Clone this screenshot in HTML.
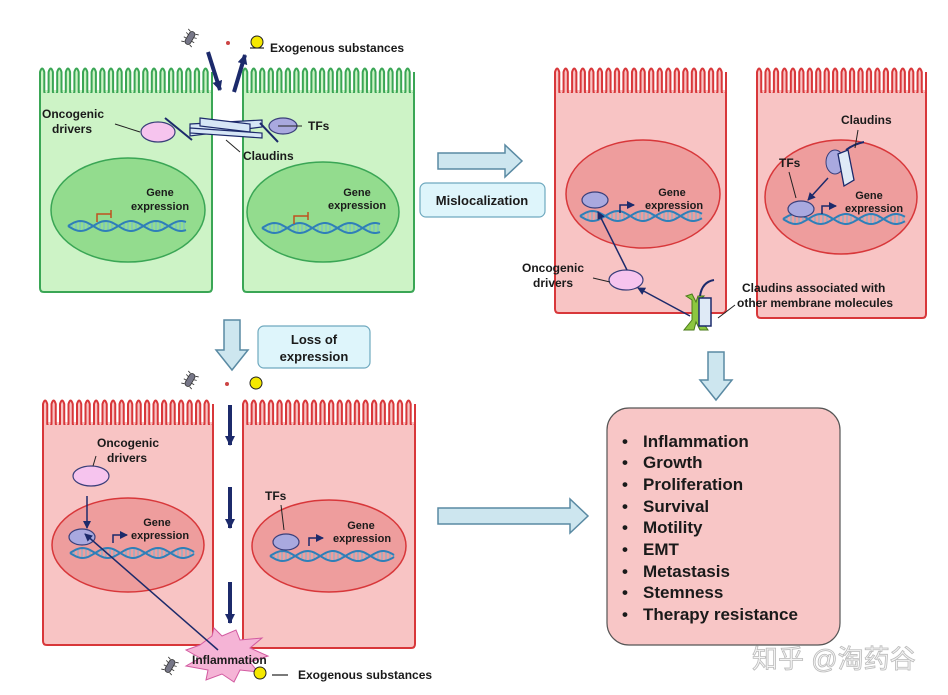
<!DOCTYPE html>
<html><head><meta charset="utf-8"><style>
html,body{margin:0;padding:0;background:#fff;width:948px;height:695px;overflow:hidden}
svg{display:block}
text{font-family:"Liberation Sans",Arial,sans-serif;font-weight:bold;fill:#1a1a1a}
</style></head><body>
<svg id="s" width="948" height="695" viewBox="0 0 948 695" xmlns="http://www.w3.org/2000/svg">
<defs>
<marker id="ah" markerWidth="8" markerHeight="8" refX="7" refY="4" orient="auto" markerUnits="userSpaceOnUse"><path d="M0,0 L8,4 L0,8 z" fill="#1c2a6b"/></marker>
<marker id="ahs" markerWidth="10" markerHeight="10" refX="9" refY="5" orient="auto" markerUnits="userSpaceOnUse"><path d="M0,0 L10,5 L0,10 z" fill="#1c2a6b"/></marker>
</defs>
<g id="shapes"></g>

<path d="M438,153 H505 V145 L522,161 L505,177 V169 H438 Z" fill="#cde6ef" stroke="#5a8aa3" stroke-width="1.5"/>
<path d="M438,508 H570 V499 L588,516 L570,533 V524 H438 Z" fill="#cde6ef" stroke="#5a8aa3" stroke-width="1.5"/>
<path d="M224,320 V350 H216 L232,370 L248,350 H240 V320 Z" fill="#cde6ef" stroke="#5a8aa3" stroke-width="1.5"/>
<path d="M708,352 V380 H700 L716,400 L732,380 H724 V352 Z" fill="#cde6ef" stroke="#5a8aa3" stroke-width="1.5"/>

<rect x="420" y="183" width="125" height="34" rx="6" fill="#def5fb" stroke="#6fa9bf" stroke-width="1.2"/>
<text x="482" y="205" font-size="13" text-anchor="middle">Mislocalization</text>
<rect x="258" y="326" width="112" height="42" rx="6" fill="#def5fb" stroke="#6fa9bf" stroke-width="1.2"/>
<text x="314" y="344" font-size="13" text-anchor="middle">Loss  of</text>
<text x="314" y="361" font-size="13" text-anchor="middle">expression</text>

<rect x="607" y="408" width="233" height="237" rx="22" fill="#f8c6c6" stroke="#555" stroke-width="1.2"/>
<g font-size="17">
<text x="622" y="447">•</text><text x="643" y="447">Inflammation</text>
<text x="622" y="468">•</text><text x="643" y="468">Growth</text>
<text x="622" y="490">•</text><text x="643" y="490">Proliferation</text>
<text x="622" y="512">•</text><text x="643" y="512">Survival</text>
<text x="622" y="533">•</text><text x="643" y="533">Motility</text>
<text x="622" y="555">•</text><text x="643" y="555">EMT</text>
<text x="622" y="577">•</text><text x="643" y="577">Metastasis</text>
<text x="622" y="598">•</text><text x="643" y="598">Stemness</text>
<text x="622" y="620">•</text><text x="643" y="620">Therapy resistance</text>
</g>

<text x="270" y="52" font-size="12">Exogenous substances</text>
<line x1="264" y1="48" x2="250" y2="48" stroke="#222" stroke-width="1.2"/>
<circle cx="257" cy="42" r="6" fill="#f5e800" stroke="#222" stroke-width="1"/>
<circle cx="228" cy="43" r="2" fill="#c44"/>
<line x1="208" y1="52" x2="220" y2="90" stroke="#1c2a6b" stroke-width="4" marker-end="url(#ahs)"/>
<line x1="234" y1="92" x2="245" y2="55" stroke="#1c2a6b" stroke-width="4" marker-end="url(#ahs)"/>
<text x="42" y="118" font-size="12">Oncogenic</text>
<text x="52" y="133" font-size="12">drivers</text>
<line x1="115" y1="124" x2="140" y2="132" stroke="#222"/>
<text x="308" y="130" font-size="12">TFs</text>
<line x1="302" y1="126" x2="278" y2="126" stroke="#222"/>
<text x="243" y="160" font-size="12">Claudins</text>
<line x1="240" y1="152" x2="226" y2="140" stroke="#222"/>
<text x="160" y="196" font-size="11" text-anchor="middle">Gene</text>
<text x="160" y="210" font-size="11" text-anchor="middle">expression</text>
<text x="357" y="196" font-size="11" text-anchor="middle">Gene</text>
<text x="357" y="209" font-size="11" text-anchor="middle">expression</text>

<text x="672" y="196" font-size="11" text-anchor="middle">Gene</text>
<text x="674" y="209" font-size="11" text-anchor="middle">expression</text>
<text x="869" y="199" font-size="11" text-anchor="middle">Gene</text>
<text x="874" y="212" font-size="11" text-anchor="middle">expression</text>
<text x="841" y="124" font-size="12">Claudins</text>
<line x1="858" y1="130" x2="855" y2="148" stroke="#222"/>
<text x="779" y="167" font-size="12">TFs</text>
<line x1="789" y1="172" x2="796" y2="198" stroke="#222"/>
<text x="522" y="272" font-size="12">Oncogenic</text>
<text x="533" y="287" font-size="12">drivers</text>
<line x1="593" y1="278" x2="610" y2="282" stroke="#222"/>
<text x="742" y="292" font-size="12">Claudins associated with</text>
<text x="737" y="307" font-size="12">other membrane molecules</text>
<line x1="735" y1="305" x2="718" y2="318" stroke="#222"/>

<text x="97" y="447" font-size="12">Oncogenic</text>
<text x="107" y="462" font-size="12">drivers</text>
<line x1="96" y1="456" x2="93" y2="466" stroke="#222"/>
<text x="157" y="526" font-size="11" text-anchor="middle">Gene</text>
<text x="160" y="539" font-size="11" text-anchor="middle">expression</text>
<text x="265" y="500" font-size="12">TFs</text>
<line x1="281" y1="505" x2="284" y2="530" stroke="#222"/>
<text x="361" y="529" font-size="11" text-anchor="middle">Gene</text>
<text x="362" y="542" font-size="11" text-anchor="middle">expression</text>
<circle cx="256" cy="383" r="6" fill="#f5e800" stroke="#222" stroke-width="1"/>
<circle cx="227" cy="384" r="2" fill="#c44"/>
<line x1="230" y1="405" x2="230" y2="445" stroke="#1c2a6b" stroke-width="4" marker-end="url(#ahs)"/>
<line x1="230" y1="487" x2="230" y2="528" stroke="#1c2a6b" stroke-width="4" marker-end="url(#ahs)"/>
<line x1="230" y1="582" x2="230" y2="623" stroke="#1c2a6b" stroke-width="4" marker-end="url(#ahs)"/>
<path d="M200,645 L212,636 L214,628 L222,636 L236,630 L240,640 L262,638 L250,648 L268,656 L250,662 L258,672 L240,670 L234,682 L222,674 L206,680 L208,670 L186,666 L200,658 L186,650 Z" fill="#f5b4d6" stroke="#d25aa0" stroke-width="1"/>
<line x1="218" y1="650" x2="85" y2="534" stroke="#1c2a6b" stroke-width="1.5" marker-end="url(#ah)"/>
<text x="192" y="664" font-size="12">Inflammation</text>
<circle cx="260" cy="673" r="6" fill="#f5e800" stroke="#222" stroke-width="1"/>
<line x1="272" y1="675" x2="288" y2="675" stroke="#222" stroke-width="1.2"/>
<text x="298" y="679" font-size="12">Exogenous substances</text>

<text x="752" y="668" font-size="26" style="font-family:'Liberation Sans','Noto Sans CJK SC',sans-serif;font-weight:normal;fill:#f4f4f4;stroke:#bbb;stroke-width:0.8">知乎 @淘药谷</text>
</svg>
<script>
const g=document.getElementById('shapes');let h='';
function cell(x0,x1,yt,yb,fill,st,n){
 let wd=(x1-x0);let base=yt+30;let w=wd/n;
 let d=`M${x0},${base} L${x0},${yt+4} `;
 for(let i=0;i<n;i++){let a=x0+i*w;d+=`Q${a+w/4},${yt-3} ${a+w/2},${yt+4} L${a+w/2},${base-6} Q${a+w*0.75},${base} ${a+w},${base-6} L${a+w},${yt+4} `;}
 d+=`L${x1},${base}`;
 h+=`<path d="M${x0},${base-8} L${x0},${yb-4} Q${x0},${yb} ${x0+4},${yb} L${x1-4},${yb} Q${x1},${yb} ${x1},${yb-4} L${x1},${base-8}" fill="${fill}" stroke="${st}" stroke-width="2"/>`;
 h+=`<path d="${d} Z" fill="${fill}" stroke="none"/>`;
 h+=`<path d="${d}" fill="none" stroke="${st}" stroke-width="2"/>`;
 h+=`<rect x="${x0+1}" y="${base-5}" width="${wd-2}" height="8" fill="${fill}"/>`;
}
function nuc(cx,cy,rx,ry,f,s){h+=`<ellipse cx="${cx}" cy="${cy}" rx="${rx}" ry="${ry}" fill="${f}" stroke="${s}" stroke-width="1.5"/>`;}
function dna(x,y,len){let d1='',d2='',r='';for(let i=0;i<=len;i+=2){let y1=y+5*Math.sin(i/8),y2=y-5*Math.sin(i/8);d1+=(i?'L':'M')+(x+i)+','+y1;d2+=(i?'L':'M')+(x+i)+','+y2;if(i%4==0)r+=`M${x+i},${y1}L${x+i},${y2}`;}
 h+=`<path d="${r}" stroke="#6fb7d6" stroke-width="1"/><path d="${d1}" fill="none" stroke="#2f7fb8" stroke-width="2"/><path d="${d2}" fill="none" stroke="#2f7fb8" stroke-width="2"/>`;}
function oval(cx,cy,rx,ry,f){h+=`<ellipse cx="${cx}" cy="${cy}" rx="${rx}" ry="${ry}" fill="${f}" stroke="#3a3f7a" stroke-width="1.2"/>`;}
function bent(x,y,col){h+=`<path d="M${x},${y} v-8 h14" fill="none" stroke="${col}" stroke-width="1.5" ${col=='#c0501f'?'':'marker-end="url(#ah)"'}/>`;if(col=='#c0501f')h+=`<line x1="${x+14}" y1="${y-12}" x2="${x+14}" y2="${y-4}" stroke="${col}" stroke-width="1.5"/>`;}
const G='#cdf3c6',GS='#3aa655',GN='#93dc8e',R='#f8c4c4',RS='#d8373a',RN='#ee9d9d';
cell(40,212,68,292,G,GS,20);cell(243,414,68,292,G,GS,20);
cell(555,726,68,313,R,RS,20);cell(757,926,68,318,R,RS,20);
cell(43,213,400,645,R,RS,20);cell(243,415,400,648,R,RS,20);
nuc(128,210,77,52,GN,GS);nuc(323,212,76,50,GN,GS);
nuc(643,194,77,54,RN,RS);nuc(841,197,76,57,RN,RS);
nuc(128,545,76,47,RN,RS);nuc(329,546,77,46,RN,RS);
dna(68,226,118);dna(262,228,118);dna(580,216,122);dna(783,219,122);dna(70,553,125);dna(270,556,125);
bent(97,222,'#c0501f');bent(294,224,'#c0501f');
bent(620,213,'#1c2a6b');bent(822,214,'#1c2a6b');bent(113,543,'#1c2a6b');bent(309,546,'#1c2a6b');
oval(158,132,17,10,'#f6c4ee');oval(283,126,14,8,'#a9a9df');
h+=`<g stroke="#1c2a6b" stroke-width="1.2" fill="#d6e6f6"><path d="M190,124 L262,120 L262,127 L190,136 Z"/><path d="M190,128 L262,133 L262,138 L190,133 Z"/><path d="M200,118 L250,124 L250,132 L200,126 Z"/></g><line x1="165" y1="118" x2="192" y2="140" stroke="#1c2a6b" stroke-width="2"/><line x1="260" y1="123" x2="278" y2="142" stroke="#1c2a6b" stroke-width="2"/>`;
oval(595,200,13,8,'#a9a9df');oval(626,280,17,10,'#f6c4ee');
h+=`<line x1="627" y1="270" x2="598" y2="212" stroke="#1c2a6b" stroke-width="1.5" marker-end="url(#ah)"/><line x1="690" y1="316" x2="638" y2="288" stroke="#1c2a6b" stroke-width="1.5" marker-end="url(#ah)"/>`;
h+=`<path d="M686,296 l6,4 v20 l-8,10 h10 l2,-8 l4,8 h8 l-8,-12 v-18 l4,-4 h-6 l-2,6 l-4,-8 z" fill="#8cc63f" stroke="#4a7a1a"/><path d="M699,298 h12 v28 h-12 z" fill="#dfeaf6" stroke="#1c2a6b" stroke-width="1.5"/><path d="M700,296 q2,-14 14,-16" fill="none" stroke="#1c2a6b" stroke-width="2"/>`;
oval(801,209,13,8,'#a9a9df');
h+=`<ellipse cx="835" cy="162" rx="9" ry="12" fill="#a9a9df" stroke="#3a3f7a"/><path d="M838,154 l10,-4 l6,30 l-10,6 z" fill="#dfeaf6" stroke="#1c2a6b" stroke-width="1.3"/><path d="M846,150 q8,-6 18,-8" fill="none" stroke="#1c2a6b" stroke-width="2"/><line x1="828" y1="178" x2="808" y2="200" stroke="#1c2a6b" stroke-width="1.5" marker-end="url(#ah)"/>`;
oval(91,476,18,10,'#f6c4ee');oval(82,537,13,8,'#a9a9df');
h+=`<line x1="87" y1="496" x2="87" y2="528" stroke="#1c2a6b" stroke-width="1.5" marker-end="url(#ah)"/>`;
oval(286,542,13,8,'#a9a9df');
function bug(x,y){h+=`<g transform="translate(${x},${y}) rotate(-60)"><rect x="-7" y="-3" width="14" height="6" rx="3" fill="#778" stroke="#333" stroke-width="0.8"/><path d="M-6,-3 l-1,-3 M-2,-3 l0,-3 M2,-3 l1,-3 M6,-3 l1,-3 M-6,3 l-1,3 M-2,3 l0,3 M2,3 l1,3 M6,3 l1,3" stroke="#333" stroke-width="0.8"/></g>`;}
bug(190,38);bug(190,380);bug(170,666);
g.innerHTML=h;
</script>
</body></html>
